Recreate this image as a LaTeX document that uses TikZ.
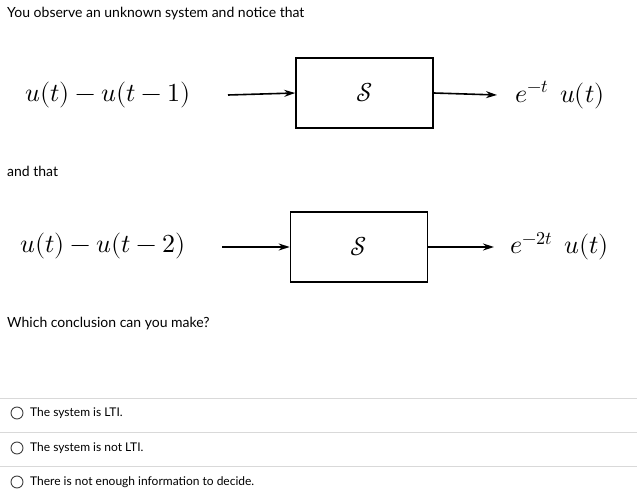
\documentclass[tikz,border=0pt]{standalone}
\usepackage{fontspec}
\setmainfont{Lato}
\usepackage{unicode-math}
\setmathfont{Latin Modern Math}
\usetikzlibrary{arrows.meta}
\tikzset{
 txt/.style={anchor=west,inner sep=0pt,font=\fontsize{14}{16}\selectfont},
 opt/.style={anchor=west,inner sep=0pt,font=\fontsize{12}{14}\selectfont},
 mth/.style={inner sep=0pt,font=\fontsize{26}{30}\selectfont},
 sys/.style={draw,line width=1.6pt,minimum width=137pt,minimum height=70pt,inner sep=0pt,font=\fontsize{26}{30}\selectfont},
 arr/.style={line width=1.6pt,-{Stealth[length=11pt,width=7pt]}},
 sep/.style={draw=black!15,line width=0.8pt},
 radio/.style={draw=black!75,circle,minimum size=12pt,inner sep=0pt,line width=0.9pt}
}
\begin{document}
\begin{tikzpicture}[x=1pt,y=-1pt]
\useasboundingbox (0,0) rectangle (637,497);
\node[txt] (t1) at (7,14) {You observe an unknown system and notice that};
\node[mth,anchor=west] (in1) at (25,95) {$u(t)-u(t-1)$};
\node[sys] (s1) at (364.5,93) {$\mathcal{S}$};
\node[mth,anchor=west] (o1) at (515,95) {$e^{-t}\;\,u(t)$};
\coordinate (a1) at (228,95);
\draw[arr] (a1) -- (s1.west);
\coordinate (b1) at (497,95);
\draw[arr] (s1.east) -- (b1);
\node[txt] (t2) at (7,171) {and that};
\node[mth,anchor=west] (in2) at (20,246) {$u(t)-u(t-2)$};
\node[sys] (s2) at (359,247) {$\mathcal{S}$};
\node[mth,anchor=west] (o2) at (510,246) {$e^{-2t}\;\,u(t)$};
\coordinate (a2) at (222,247);
\draw[arr] (a2) -- (s2.west);
\coordinate (b2) at (494,247);
\draw[arr] (s2.east) -- (b2);
\node[txt] (t3) at (7,324) {Which conclusion can you make?};
\coordinate (l1a) at (0,398); \coordinate (l1b) at (637,398);
\coordinate (l2a) at (0,432); \coordinate (l2b) at (637,432);
\coordinate (l3a) at (0,466); \coordinate (l3b) at (637,466);
\draw[sep] (l1a) -- (l1b); \draw[sep] (l2a) -- (l2b); \draw[sep] (l3a) -- (l3b);
\node[radio] (r1) at (17,413) {};
\node[radio] (r2) at (17,448) {};
\node[radio] (r3) at (17,482) {};
\node[opt] (p1) at (30,413) {The system is LTI.};
\node[opt] (p2) at (30,448) {The system is not LTI.};
\node[opt] (p3) at (30,482) {There is not enough information to decide.};
\end{tikzpicture}
\end{document}
